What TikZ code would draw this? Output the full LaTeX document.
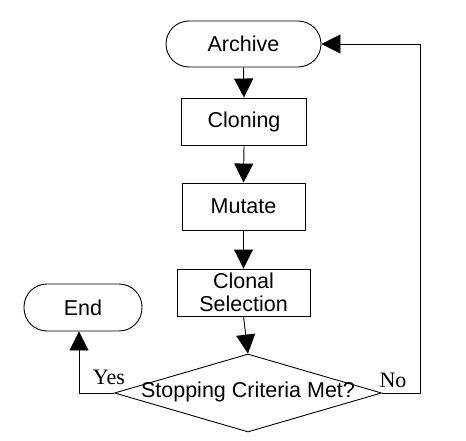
\documentclass[tikz,border=0pt]{standalone}
\usepackage{fontspec}
\setmainfont{Liberation Sans}
\newfontfamily\tms{Liberation Serif}
\usetikzlibrary{arrows.meta,shapes.geometric}
\begin{document}
\begin{tikzpicture}[x=1pt,y=-1pt,
  every node/.style={font=\fontsize{21.5}{24}\selectfont},
  proc/.style={draw, line width=0.9pt, inner sep=0pt, align=center},
  term/.style={draw, line width=0.9pt, inner sep=0pt, rounded corners=23pt},
  arr/.style={line width=0.9pt, -{Triangle[length=19pt,width=19pt]}},
  lbl/.style={font=\tms\fontsize{22}{24}\selectfont, inner sep=0pt}]
\useasboundingbox (0,0) rectangle (466,441);
\fill[white] (0,0) rectangle (466,441);
\node[term, minimum width=155pt, minimum height=46pt] (arch) at (243.5,44) {Archive};
\node[proc, minimum width=125pt, minimum height=47pt] (clon) at (244,121.5) {Cloning};
\node[proc, minimum width=123pt, minimum height=47pt] (mut) at (243.5,206.5) {Mutate};
\node[proc, minimum width=133pt, minimum height=47pt, font=\fontsize{21.5}{23}\selectfont] (sel) at (243.5,292.5) {Clonal\\Selection};
\node[term, minimum width=118pt, minimum height=47pt] (endn) at (83,307.5) {End};
\node[diamond, draw, line width=0.9pt, minimum width=267pt, minimum height=78pt, inner sep=0pt] (dec) at (248,393) {};
\node[inner sep=0pt] (dtxt) at (248,392) {Stopping Criteria Met?};
\coordinate (cR) at (420,393);
\coordinate (cL) at (79,393);
\draw[arr] (arch.south) -- (clon.north);
\draw[arr] (clon.south) -- (mut.north);
\draw[arr] (mut.south) -- (sel.north);
\draw[arr] (sel.south) -- (dec.north);
\draw[arr] (dec.east) -- (cR) |- (arch.east);
\draw[arr] (dec.west) -- (cL) -- (cL |- endn.south);
\node[lbl] (yes) at (109,377) {Yes};
\node[lbl] (no) at (393,380) {No};
\end{tikzpicture}
\end{document}
